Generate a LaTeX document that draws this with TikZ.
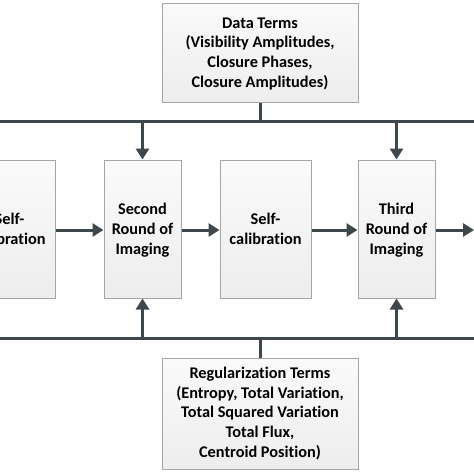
\documentclass[tikz,border=0pt]{standalone}
\usepackage{fontspec}
\setmainfont{Carlito}[Ligatures=CommonOff]
\usetikzlibrary{arrows.meta,calc}
\definecolor{linec}{HTML}{3E474C}
\definecolor{boxborder}{HTML}{A6A6A6}
\definecolor{boxtop}{HTML}{FAFAFA}
\definecolor{boxbot}{HTML}{EDEDED}
\tikzset{
  box/.style={draw=boxborder, line width=1pt, top color=boxtop, bottom color=boxbot,
    align=center, inner sep=0pt, font=\bfseries\fontsize{16.3}{19.8}\selectfont, text=black},
  conn/.style={draw=linec, line width=3pt},
  arr/.style={conn, -{Triangle[length=11pt,width=13pt]}},
}
\begin{document}
\begin{tikzpicture}[x=1pt,y=-1pt]
\useasboundingbox (0,0) rectangle (474,474);
\clip (0,0) rectangle (474,474);
\fill[white] (0,0) rectangle (474,474);
% boxes
\node[box, minimum width=196pt, minimum height=99pt] (data) at (260,52.5)
  {\rule{0pt}{13pt}Data Terms\\(Visibility Amplitudes,\\Closure Phases,\\Closure Amplitudes)};
\node[box, minimum width=196pt, minimum height=111pt] (reg) at (260,413.5)
  {Regularization Terms\\(Entropy, Total Variation,\\Total Squared Variation\\Total Flux,\\Centroid Position)};
\node[box, minimum width=91pt, minimum height=138pt] (cal1) at (9.5,229) {Self-\\calibration};
\node[box, minimum width=77pt, minimum height=138pt] (img2) at (142.5,229) {\rule{0pt}{14pt}Second\\Round of\\Imaging};
\node[box, minimum width=91pt, minimum height=138pt] (cal2) at (265.5,229) {Self-\\calibration};
\node[box, minimum width=77pt, minimum height=138pt] (img3) at (396.5,229) {\rule{0pt}{14pt}Third\\Round of\\Imaging};
% buses
\coordinate (tbL) at (-5,121);
\coordinate (tbR) at (480,121);
\coordinate (bbL) at (-5,338);
\coordinate (bbR) at (480,338);
\coordinate (out) at (474,230);
\draw[conn] (tbL) -- (tbR);
\draw[conn] (bbL) -- (bbR);
\draw[conn] (data.south) -- (data.south |- tbL);
\draw[conn] (reg.north) -- (reg.north |- bbL);
% vertical arrows
\draw[arr] (img2.north |- tbL) -- (img2.north);
\draw[arr] (img3.north |- tbL) -- (img3.north);
\draw[arr] (img2.south |- bbL) -- (img2.south);
\draw[arr] (img3.south |- bbL) -- (img3.south);
% horizontal arrows
\draw[arr] (cal1.east |- out) -- (img2.west |- out);
\draw[arr] (img2.east |- out) -- (cal2.west |- out);
\draw[arr] (cal2.east |- out) -- (img3.west |- out);
\draw[arr] (img3.east |- out) -- (out);
\end{tikzpicture}
\end{document}
